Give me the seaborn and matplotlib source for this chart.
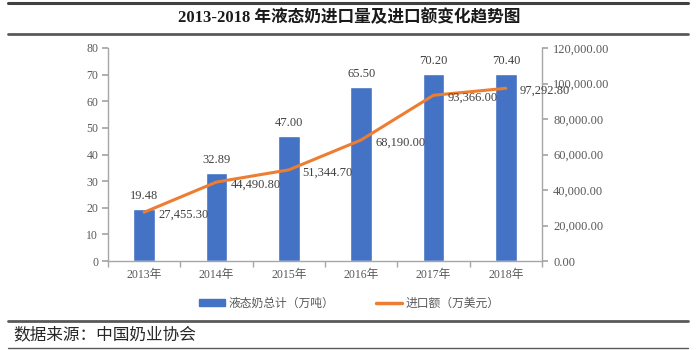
import numpy as np
import pandas as pd
import matplotlib
matplotlib.use("Agg")
import matplotlib.pyplot as plt
from matplotlib.lines import Line2D
from matplotlib.patches import Patch
import seaborn as sns

years = ["2013年", "2014年", "2015年", "2016年", "2017年", "2018年"]
volume = [19.48, 32.89, 47.00, 65.50, 70.20, 70.40]
amount = [27455.30, 44490.80, 51344.70, 68190.00, 93366.00, 97292.80]
left_ticks = [0, 10, 20, 30, 40, 50, 60, 70, 80]
right_ticks = [0, 20000, 40000, 60000, 80000, 100000, 120000]
title = "2013-2018 年液态奶进口量及进口额变化趋势图"
legend_labels = ["液态奶总计（万吨）", "进口额（万美元）"]
source = "数据来源：中国奶业协会"

sns.set_theme(style="white")
plt.rcParams['font.family'] = ['Liberation Serif', 'Noto Sans CJK SC', 'DejaVu Sans']

BAR = "#4472C4"
LINE = "#ED7D31"
AX = "#A6A6A6"
TXT = "#404040"

W, H = 699, 350
fig = plt.figure(figsize=(W / 100, H / 100), dpi=100)

def fx(px):
    return px / W

def fy(py):
    return 1 - py / H

ax = fig.add_axes([fx(108), fy(261), fx(542) - fx(108), fy(48) - fy(261)])
df = pd.DataFrame({"year": years, "volume": volume, "amount": amount})
sns.barplot(data=df, x="year", y="volume", color=BAR, width=0.3, ax=ax, saturation=1)
ax.set_xlim(-0.5, 5.5)
ax.set_ylim(0, 80)
ax.set_yticks(left_ticks)
ax.set_xlabel("")
ax.set_ylabel("")
for i, v in enumerate(volume):
    ax.annotate(f"{v:.2f}", (i, v), xytext=(0, 5), textcoords="offset points",
                ha="center", va="bottom", fontsize=9, color=TXT,
                family=['Liberation Serif'])

ax2 = ax.twinx()
sns.lineplot(x=np.arange(len(years)), y=amount, color=LINE, linewidth=2.2, ax=ax2)
ax2.set_ylim(0, 120000)
ax2.set_yticks(right_ticks)
ax2.set_yticklabels([f"{t:,.2f}" for t in right_ticks])
for i, v in enumerate(amount):
    ax2.annotate(f"{v:,.2f}", (i, v), xytext=(10, -2), textcoords="offset points",
                 ha="left", va="center", fontsize=9, color=TXT,
                 family=['Liberation Serif'])

for a in (ax, ax2):
    for s in a.spines.values():
        s.set_color(AX)
        s.set_linewidth(1.0)
    a.spines['top'].set_visible(False)
ax.spines['right'].set_visible(False)
ax2.spines['left'].set_visible(False)
ax2.spines['bottom'].set_visible(False)

ax.tick_params(axis='y', which='both', direction='out', length=4, color=AX,
               labelsize=8.5, labelcolor="#595959", left=True, pad=3)
ax2.tick_params(axis='y', which='both', direction='out', length=4, color=AX,
                labelsize=9, labelcolor="#595959", right=True, pad=4)
ax.tick_params(axis='x', which='major', length=0, labelsize=8.5, labelcolor="#595959", pad=6)
ax.set_xticks(np.arange(-0.5, 6.0, 1.0), minor=True)
ax.tick_params(axis='x', which='minor', direction='out', length=4, color=AX, bottom=True)
for lab in ax.get_xticklabels():
    lab.set_family(['Liberation Serif', 'Noto Sans CJK SC'])

handles = [Patch(facecolor=BAR, edgecolor=BAR),
           Line2D([0], [0], color=LINE, linewidth=2.5)]
fig.legend(handles, legend_labels, loc="center", bbox_to_anchor=(fx(349), fy(303)),
           ncol=2, frameon=False, labelcolor="#595959",
           handlelength=2.2, handleheight=0.6, columnspacing=3.5, handletextpad=0.3,
           prop={'family': ['Noto Sans CJK SC'], 'size': 8.5})

# rules
fig.add_artist(Line2D([fx(8), fx(688)], [fy(3), fy(3)], color="#404040", linewidth=2.2))
fig.add_artist(Line2D([fx(8), fx(688)], [fy(34), fy(34)], color="#595959", linewidth=2.0))
fig.add_artist(Line2D([fx(8), fx(688)], [fy(321), fy(321)], color="#595959", linewidth=2.0))
fig.add_artist(Line2D([fx(8), fx(688)], [fy(348), fy(348)], color="#595959", linewidth=1.0))

fig.text(0.5, fy(18), title, ha="center", va="center", fontsize=12, fontweight="bold",
         color="#1a1a1a", family=['Liberation Serif', 'Noto Sans CJK SC'])
fig.text(fx(13), fy(335), source, ha="left", va="center", fontsize=12, color="#262626",
         family=['Noto Sans CJK SC'])

fig.savefig("out.png", dpi=100)
